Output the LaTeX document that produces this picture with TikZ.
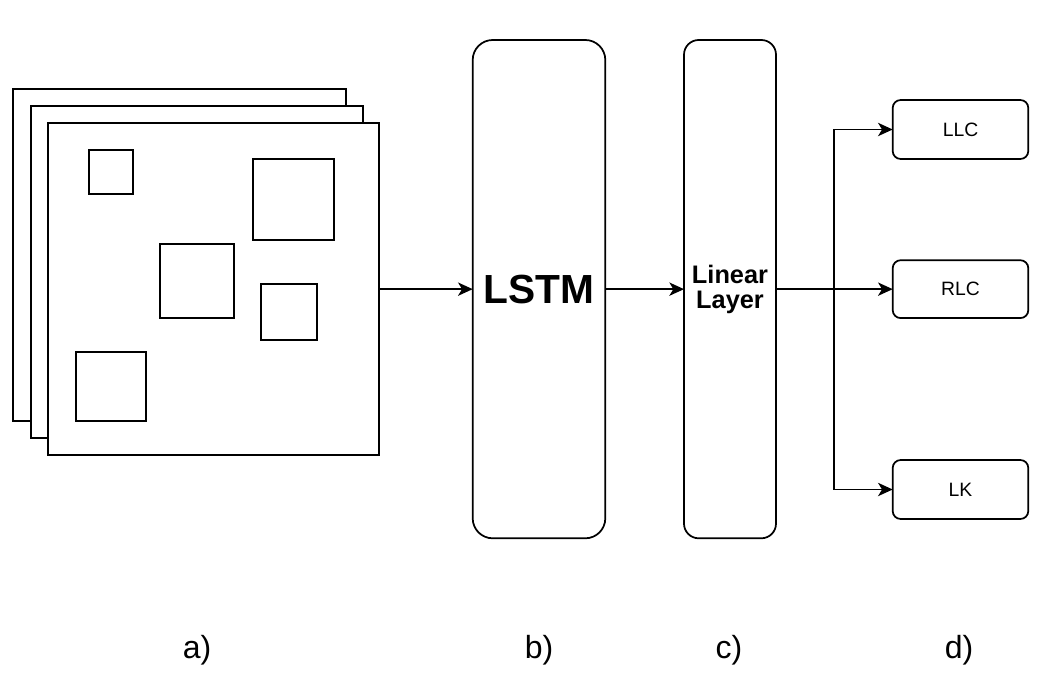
\documentclass[tikz,border=0pt]{standalone}
\usepackage{fontspec}
\setmainfont{Liberation Sans}
\usetikzlibrary{arrows.meta,fit}
\begin{document}
\begin{tikzpicture}[x=0.75pt,y=-0.75pt,
  every node/.style={inner sep=0pt, outer sep=0pt},
  frame/.style={draw, line width=1.3pt, fill=white},
  blk/.style={draw, line width=1.3pt, fill=white},
  bigbox/.style={draw, line width=1.3pt, rounded corners=15pt},
  linbox/.style={draw, line width=1.3pt, rounded corners=11pt},
  outbox/.style={draw, line width=1.3pt, rounded corners=6pt},
  outtxt/.style={font=\fontsize{14.5}{16}\selectfont},
  lbl/.style={font=\fontsize{24}{26}\selectfont},
  arr/.style={line width=1.1pt, -{Stealth[length=11pt,width=10pt,inset=3pt]}}
]
\useasboundingbox (0,0) rectangle (1060,688);
% stacked frames
\node[frame, fit={(13.3,89.3) (345.7,421)}] (f1) {};
\node[frame, fit={(30.7,106) (362.7,438.3)}] (f2) {};
\node[frame, fit={(47.7,123.3) (379.3,455)}] (f3) {};
% squares in front frame
\node[blk, fit={(89,150) (133.3,194.3)}] (s1) {};
\node[blk, fit={(252.7,158.7) (334,240)}] (s2) {};
\node[blk, fit={(159.7,243.7) (234.3,318.3)}] (s3) {};
\node[blk, fit={(261,284) (317,340)}] (s4) {};
\node[blk, fit={(76.3,352) (146,421.3)}] (s5) {};
% LSTM
\node[bigbox, fit={(472.7,40) (605.3,538.3)}] (lstm) {};
\node[font=\fontsize{30.5}{30}\selectfont\bfseries] (lstmt) at (lstm.center) {LSTM};
% Linear layer
\node[linbox, fit={(684,40) (776,538.3)}] (lin) {};
\node[align=center, font=\fontsize{19}{19}\selectfont\bfseries] (lint) at (lin.center) {Linear\\Layer};
% outputs
\node[outbox, fit={(892.7,100) (1028.3,159)}] (llc) {};
\node[outtxt] (llct) at (llc.center) {LLC};
\node[outbox, fit={(892.7,260.2) (1028.3,318.1)}] (rlc) {};
\node[outtxt] (rlct) at (rlc.center) {RLC};
\node[outbox, fit={(892.7,460) (1028.3,519)}] (lk) {};
\node[outtxt] (lkt) at (lk.center) {LK};
% connectors
\draw[arr] (f3.east) -- (lstm.west);
\draw[arr] (lstm.east) -- (lin.west);
\draw[arr] (lin.east) -- (rlc.west);
\coordinate (br) at (834,289.15);
\draw[arr] (br) |- (llc.west);
\draw[arr] (br) |- (lk.west);
% labels
\node[lbl] (la) at (197,650) {a)};
\node[lbl] (lb) at (539,650) {b)};
\node[lbl] (lc) at (729,650) {c)};
\node[lbl] (ld) at (959,650) {d)};
\end{tikzpicture}
\end{document}
